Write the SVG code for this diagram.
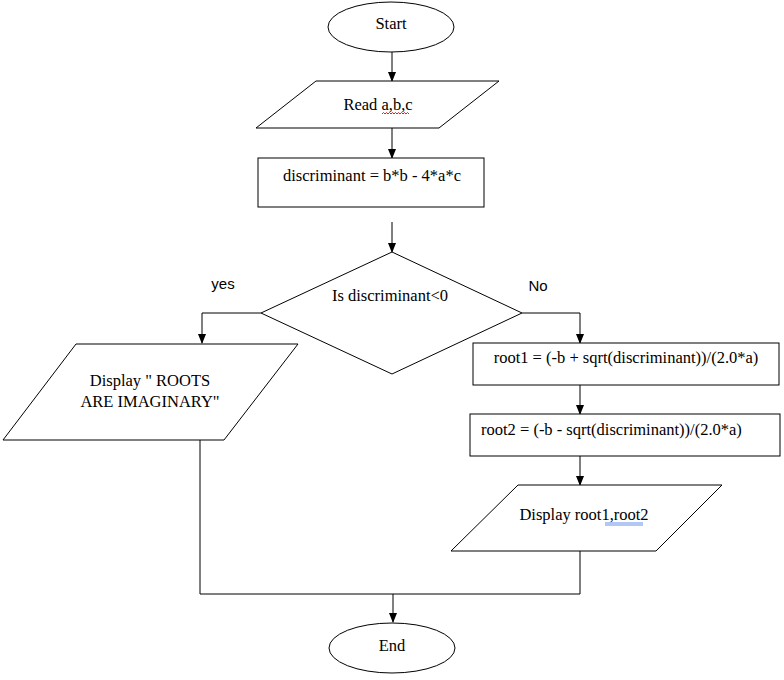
<svg xmlns="http://www.w3.org/2000/svg" width="784" height="680" viewBox="0 0 784 680">
<defs>
<marker id="ah" markerWidth="10" markerHeight="10" refX="9" refY="5" orient="auto" markerUnits="userSpaceOnUse">
<path d="M0,1 L10,5 L0,9 z" fill="#000"/>
</marker>
<style>
.s{fill:#fff;stroke:#000;stroke-width:1}
.t{font-family:"Liberation Serif","Times New Roman",serif;font-size:16.5px;fill:#000}
.l{font-family:"Liberation Sans",Arial,sans-serif;font-size:15px;fill:#000}
.c{fill:none;stroke:#000;stroke-width:1}
</style>
</defs>
<rect width="784" height="680" fill="#fff"/>
<g id="connectors">
<path class="c" d="M392,52 V81" marker-end="url(#ah)"/>
<path class="c" d="M392,128 V158" marker-end="url(#ah)"/>
<path class="c" d="M392,222 V252" marker-end="url(#ah)"/>
<path class="c" d="M261,313 H202 V343" marker-end="url(#ah)"/>
<path class="c" d="M522,313 H580 V343" marker-end="url(#ah)"/>
<path class="c" d="M580,385 V414" marker-end="url(#ah)"/>
<path class="c" d="M580,456 V485" marker-end="url(#ah)"/>
<path class="c" d="M200,440 V594 H580 V551"/>
<path class="c" d="M393,594 V622" marker-end="url(#ah)"/>
<text class="l" x="223" y="289" text-anchor="middle">yes</text>
<text class="l" x="538" y="291" text-anchor="middle">No</text>
</g>
<g id="start">
<ellipse class="s" cx="391" cy="27" rx="63" ry="25"/>
<text class="t" x="391" y="29" text-anchor="middle">Start</text>
</g>
<g id="read">
<polygon class="s" points="316,81 499,81 439,128 256,128"/>
<text class="t" x="378" y="110" text-anchor="middle">Read a,b,c</text>
<path d="M382,114 l1.5,-1.5 l1.5,1.5 l1.5,-1.5 l1.5,1.5 l1.5,-1.5 l1.5,1.5 l1.5,-1.5 l1.5,1.5 l1.5,-1.5 l1.5,1.5 l1.5,-1.5 l1.5,1.5 l1.5,-1.5 l1.5,1.5 l1.5,-1.5 l1.5,1.5 l1.5,-1.5 l1.5,1.5" fill="none" stroke="#e02020" stroke-width="1"/>
</g>
<g id="disc">
<rect class="s" x="258" y="158" width="226" height="49"/>
<text class="t" x="372" y="181" text-anchor="middle">discriminant = b*b - 4*a*c</text>
</g>
<g id="decision">
<polygon class="s" points="392,252 522,313 392,374 261,313"/>
<text class="t" x="390" y="301" text-anchor="middle">Is discriminant&lt;0</text>
</g>
<g id="imag">
<polygon class="s" points="76,344 298,344 224,440 3,440"/>
<text class="t" x="150" y="386" text-anchor="middle">Display " ROOTS</text>
<text class="t" x="150" y="407" text-anchor="middle">ARE IMAGINARY"</text>
</g>
<g id="root1">
<rect class="s" x="473" y="343" width="306" height="42"/>
<text class="t" x="626" y="363" text-anchor="middle">root1 = (-b + sqrt(discriminant))/(2.0*a)</text>
</g>
<g id="root2">
<rect class="s" x="470" y="414" width="310" height="42"/>
<text class="t" x="481" y="435">root2 = (-b - sqrt(discriminant))/(2.0*a)</text>
</g>
<g id="display">
<polygon class="s" points="518,485 722,485 656,551 451,551"/>
<text class="t" x="584" y="520" text-anchor="middle">Display root1,root2</text>
<path d="M605,523 H643 M605,525 H643" fill="none" stroke="#2060e0" stroke-width="0.7"/>
</g>
<g id="end">
<ellipse class="s" cx="392" cy="648" rx="63" ry="25"/>
<text class="t" x="392" y="651" text-anchor="middle">End</text>
</g>
</svg>
